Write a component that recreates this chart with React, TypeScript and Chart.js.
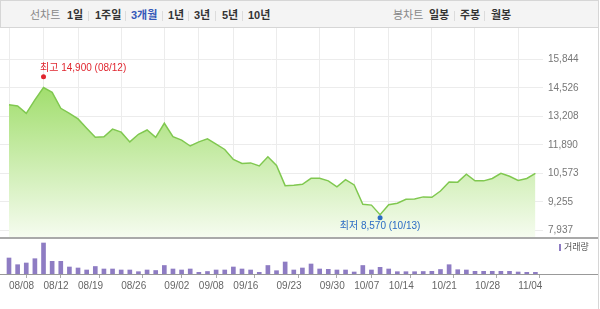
import React, { useEffect, useRef } from "react";
import { Chart, registerables } from "chart.js";
Chart.register(...registerables);

const FONT = '"Liberation Sans", "Noto Sans CJK KR", Arial, sans-serif';

// ---- data ----
const dates = [
  "08/08", "08/09", "08/10", "08/11", "08/12", "08/16", "08/17", "08/18", "08/19",
  "08/22", "08/23", "08/24", "08/25", "08/26", "08/29", "08/30", "08/31",
  "09/01", "09/02", "09/05", "09/06", "09/07", "09/08", "09/13", "09/14", "09/15", "09/16",
  "09/19", "09/20", "09/21", "09/22", "09/23", "09/26", "09/27", "09/28", "09/29", "09/30",
  "10/04", "10/05", "10/06", "10/07", "10/11", "10/12", "10/13", "10/14",
  "10/17", "10/18", "10/19", "10/20", "10/21", "10/24", "10/25", "10/26", "10/27", "10/28",
  "10/31", "11/01", "11/02", "11/03", "11/04", "11/07", "11/08",
];
const closes = [
  13740, 13690, 13350, 13970, 14540, 14320, 13580, 13350, 13090,
  12660, 12240, 12270, 12620, 12480, 12030, 12380, 12580,
  12240, 12890, 12270, 12110, 11840, 12030, 12170, 11930, 11680, 11220,
  11030, 11060, 10920, 11340, 10940, 10010, 10030, 10070, 10350, 10350,
  10230, 9950, 10290, 10040, 9150, 9110, 8670, 9130,
  9200, 9380, 9390, 9490, 9470, 9760, 10180, 10170, 10540, 10230,
  10230, 10340, 10580, 10440, 10250, 10340, 10580,
];
// volume, thousand shares
const volumesK = [
  1600, 930, 1100, 1530, 3100, 1270, 1270, 700, 600,
  400, 750, 500, 500, 400, 400, 230, 400,
  350, 850, 500, 400, 500, 170, 250, 400, 400, 700,
  500, 400, 170, 850, 330, 1200, 400, 600, 1000, 500,
  470, 400, 400, 200, 850, 400, 670, 500,
  230, 230, 230, 250, 270, 450, 930, 430, 400, 270,
  270, 270, 270, 270, 200, 170, 170,
];
const priceTicks = [7937, 9255, 10573, 11890, 13208, 14526, 15844];
const dateTicks = ["08/08", "08/12", "08/19", "08/26", "09/02", "09/08", "09/16", "09/23", "09/30", "10/07", "10/14", "10/21", "10/28", "11/04"];
const highPoint = { value: 14900, date: "08/12" };
const lowPoint = { value: 8570, date: "10/13" };
const periodTabs = ["1일", "1주일", "3개월", "1년", "3년", "5년", "10년"];
const candleTabs = ["일봉", "주봉", "월봉"];

// ---- layout / style ----
const X_MIN = -1.043;
const X_MAX = 61.88;
const Y_MIN = 7591;
const Y_MAX = 17290;
const V_MAX = 3600;
const AXIS_W = 57;
const GRID = "#ececec";
const periodLefts = [66, 94, 130, 167, 193, 221, 247];
const periodSeps = [87, 124, 161, 187, 214, 241];
const candleLefts = [428, 459, 490];
const candleSeps = [453, 483];

const tickIdx = dateTicks.map((d) => dates.indexOf(d));
const fmt = (v: number) => v.toLocaleString("en-US");

const markerPlugin = {
  id: "hilo",
  afterDatasetsDraw(chart: any) {
    const { ctx } = chart;
    const x = chart.scales.x;
    const y = chart.scales.y;
    ctx.save();
    ctx.font = `10px ${FONT}`;
    ctx.textBaseline = "middle";
    // high
    const hx = x.getPixelForValue(dates.indexOf(highPoint.date));
    const hy = y.getPixelForValue(highPoint.value) - 3;
    ctx.fillStyle = "#e0262f";
    ctx.beginPath();
    ctx.arc(hx, hy, 2.5, 0, Math.PI * 2);
    ctx.fill();
    ctx.textAlign = "left";
    ctx.fillText(`최고 ${fmt(highPoint.value)} (${highPoint.date})`, hx - 3.5, hy - 8.5);
    // low
    const lx = x.getPixelForValue(dates.indexOf(lowPoint.date));
    const ly = y.getPixelForValue(lowPoint.value) + 1;
    ctx.fillStyle = "#2b6cc4";
    ctx.beginPath();
    ctx.arc(lx, ly, 2.5, 0, Math.PI * 2);
    ctx.fill();
    ctx.textAlign = "center";
    ctx.fillText(`최저 ${fmt(lowPoint.value)} (${lowPoint.date})`, lx, ly + 8.5);
    ctx.restore();
  },
};

export default function App() {
  const priceRef = useRef<HTMLCanvasElement>(null);
  const volRef = useRef<HTMLCanvasElement>(null);

  useEffect(() => {
    document.body.style.margin = "0";
    const price = new Chart(priceRef.current as HTMLCanvasElement, {
      type: "line",
      data: {
        datasets: [
          {
            data: closes.map((v, i) => ({ x: i, y: v })),
            borderColor: "#80c850",
            borderWidth: 1.5,
            pointRadius: 0,
            tension: 0,
            fill: "start",
            backgroundColor: (c: any) => {
              const area = c.chart.chartArea;
              if (!area) return "rgba(170,228,120,0.6)";
              const g = c.chart.ctx.createLinearGradient(0, area.top, 0, area.bottom);
              g.addColorStop(0, "rgb(128,210,58)");
              g.addColorStop(1, "rgb(246,252,240)");
              return g;
            },
          },
        ],
      },
      options: {
        animation: false,
        responsive: false,
        maintainAspectRatio: false,
        layout: { padding: 0, autoPadding: false },
        plugins: { legend: { display: false }, tooltip: { enabled: false } },
        scales: {
          x: {
            type: "linear",
            min: X_MIN,
            max: X_MAX,
            afterBuildTicks: (s: any) => {
              s.ticks = tickIdx.map((v) => ({ value: v }));
            },
            afterFit: (s: any) => {
              s.height = 0;
              s.paddingLeft = 0;
              s.paddingRight = 0;
            },
            ticks: { display: false },
            grid: { color: GRID, drawTicks: false },
            border: { display: false },
          },
          y: {
            position: "right",
            min: Y_MIN,
            max: Y_MAX,
            afterBuildTicks: (s: any) => {
              s.ticks = priceTicks.map((v) => ({ value: v }));
            },
            afterFit: (s: any) => {
              s.width = AXIS_W;
              s.paddingTop = 0;
              s.paddingBottom = 0;
            },
            ticks: {
              padding: 5,
              color: "#777",
              font: { family: FONT, size: 10 },
              callback: (v: any) => fmt(Number(v)),
            },
            grid: { color: GRID, drawTicks: false },
            border: { display: false },
          },
        },
      } as any,
      plugins: [markerPlugin],
    });

    const vol = new Chart(volRef.current as HTMLCanvasElement, {
      type: "bar",
      data: {
        datasets: [
          {
            data: volumesK.map((v, i) => ({ x: i, y: v })),
            backgroundColor: "#8e7cc3",
            barThickness: 4,
            borderWidth: 0,
          },
        ],
      },
      options: {
        animation: false,
        responsive: false,
        maintainAspectRatio: false,
        layout: { padding: { left: 0, right: AXIS_W, top: 0, bottom: 0 }, autoPadding: false },
        plugins: { legend: { display: false }, tooltip: { enabled: false } },
        scales: {
          x: {
            type: "linear",
            min: X_MIN,
            max: X_MAX,
            offset: false,
            afterBuildTicks: (s: any) => {
              s.ticks = tickIdx.map((v) => ({ value: v }));
            },
            afterFit: (s: any) => {
              s.height = 35;
              s.paddingLeft = 0;
              s.paddingRight = 0;
            },
            ticks: {
              align: "start",
              autoSkip: false,
              maxRotation: 0,
              padding: 2,
              color: "#666",
              font: { family: FONT, size: 10 },
              callback: (v: any) => dates[Number(v)] ?? "",
            },
            grid: { drawOnChartArea: false, drawTicks: true, tickLength: 4, color: "#aaa" },
            border: { display: true, color: "#999" },
          },
          y: { display: false, min: 0, max: V_MAX },
        },
      } as any,
    });

    return () => {
      price.destroy();
      vol.destroy();
    };
  }, []);

  const tabText = (t: string, left: number, color: string, bold: boolean) => (
    <span
      key={t + left}
      style={{
        position: "absolute",
        left,
        top: 0,
        lineHeight: "28px",
        fontSize: 11,
        fontWeight: bold ? 700 : 400,
        color,
        whiteSpace: "nowrap",
      }}
    >
      {t}
    </span>
  );
  const sep = (left: number) => (
    <span key={"s" + left} style={{ position: "absolute", left, top: 10, width: 1, height: 10, background: "#dcdcdc" }} />
  );

  return (
    <div style={{ position: "absolute", left: 0, top: 0, width: 600, height: 309, background: "#fff", fontFamily: FONT, overflow: "hidden" }}>
      <div
        style={{
          position: "absolute",
          left: 0,
          top: 0,
          width: 599,
          height: 28,
          boxSizing: "border-box",
          background: "#f4f4f4",
          border: "1px solid #d6d6d6",
        }}
      >
        {tabText("선차트", 29, "#888", false)}
        {periodTabs.map((t, i) => tabText(t, periodLefts[i], t === "3개월" ? "#3558b8" : "#333", true))}
        {periodSeps.map((l) => sep(l))}
        {tabText("봉차트", 392, "#888", false)}
        {candleTabs.map((t, i) => tabText(t, candleLefts[i], "#333", true))}
        {candleSeps.map((l) => sep(l))}
      </div>
      <canvas ref={priceRef} width={600} height={210} style={{ position: "absolute", left: 0, top: 28, display: "block" }} />
      <canvas ref={volRef} width={600} height={71} style={{ position: "absolute", left: 0, top: 238, display: "block" }} />
      <div style={{ position: "absolute", left: 0, top: 237, width: 598, height: 2, background: "#a9a9a9" }} />
      <div style={{ position: "absolute", left: 0, top: 274, width: 598, height: 1, background: "#999" }} />
      <div style={{ position: "absolute", left: 598, top: 0, width: 1, height: 309, background: "#d6d6d6" }} />
      <span style={{ position: "absolute", left: 559, top: 244, width: 2, height: 7, background: "#8e7cc3" }} />
      <span style={{ position: "absolute", left: 564, top: 241, fontSize: 9, lineHeight: "12px", color: "#555", whiteSpace: "nowrap" }}>거래량</span>
    </div>
  );
}
